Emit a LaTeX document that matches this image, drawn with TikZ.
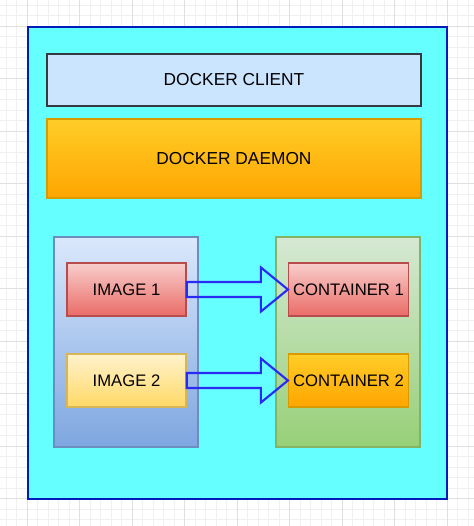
\documentclass[tikz,border=0pt]{standalone}
\usepackage{fontspec}
\setmainfont{Liberation Sans}
\usepackage{xcolor}
\usetikzlibrary{calc, positioning}

\definecolor{hostcyan}{HTML}{66FFFF}
\definecolor{hostblue}{HTML}{001DBC}
\definecolor{arrowblue}{HTML}{2A2AF5}

\tikzset{
  box/.style={rectangle, draw, line width=1.1pt, align=center, font=\fontsize{12.5}{15}\selectfont},
  redbox/.style={box, draw=red!60!black!70, top color={rgb,255:red,248;green,206;blue,204}, bottom color={rgb,255:red,234;green,107;blue,102}},
  yellowbox/.style={box, draw={rgb,255:red,214;green,182;blue,86}, top color={rgb,255:red,255;green,242;blue,204}, bottom color={rgb,255:red,255;green,217;blue,102}},
  orangebox/.style={box, draw={rgb,255:red,215;green,155;blue,0}, top color={rgb,255:red,255;green,205;blue,40}, bottom color={rgb,255:red,255;green,165;blue,0}},
  blockarrow/.style={draw=arrowblue, line width=1.6pt, line join=miter}
}

\begin{document}
\begin{tikzpicture}[x=0.75pt, y=-0.75pt]
\useasboundingbox (0,0) rectangle (474,526);
\fill[white] (0,0) rectangle (474,526);

% background grid
\foreach \i in {0,...,44} \draw[black!6, line width=0.5pt] ({6+10.5*\i},0) -- ({6+10.5*\i},526);
\foreach \i in {0,...,49} \draw[black!6, line width=0.5pt] (0,{5+10.5*\i}) -- (474,{5+10.5*\i});
\foreach \i in {0,...,8} \draw[black!12, line width=0.6pt] ({27+52.5*\i},0) -- ({27+52.5*\i},526);
\foreach \i in {0,...,9} \draw[black!12, line width=0.6pt] (0,{26+52.5*\i}) -- (474,{26+52.5*\i});

% docker host
\node[rectangle, draw=hostblue, fill=hostcyan, line width=1.6pt, minimum width=314.25pt, minimum height=354pt] (host) at (237.5,263) {};

% client and daemon
\node[box, draw={rgb,255:red,54;green,57;blue,61}, line width=1.5pt, fill={rgb,255:red,204;green,229;blue,255}, minimum width=280.5pt, minimum height=39pt, font=\fontsize{13}{15}\selectfont] (client) at (234,80) {DOCKER CLIENT};
\node[orangebox, minimum width=280.5pt, minimum height=59.25pt, font=\fontsize{13}{15}\selectfont] (daemon) at (234,158.5) {DOCKER DAEMON};

% images and containers
\node[box, draw={rgb,255:red,108;green,142;blue,191}, top color={rgb,255:red,218;green,232;blue,252}, bottom color={rgb,255:red,126;green,166;blue,224}, minimum width=108pt, minimum height=157.5pt] (images) at (126,342) {};
\node[box, draw={rgb,255:red,130;green,179;blue,102}, top color={rgb,255:red,213;green,232;blue,212}, bottom color={rgb,255:red,151;green,208;blue,119}, minimum width=108pt, minimum height=157.5pt] (containers) at (348,342) {};

\node[redbox, minimum width=89.25pt, minimum height=39.75pt] (img1) at (126.5,289.5) {IMAGE 1};
\node[redbox, minimum width=89.25pt, minimum height=39.75pt] (cont1) at (348.5,289.5) {CONTAINER 1};
\node[yellowbox, minimum width=89.25pt, minimum height=39.75pt] (img2) at (126.5,380.5) {IMAGE 2};
\node[orangebox, minimum width=89.25pt, minimum height=39.75pt] (cont2) at (348.5,380.5) {CONTAINER 2};

% run arrows
\foreach \a/\b in {img1/cont1, img2/cont2}
  \draw[blockarrow] ($(\a.east)+(0,-7.5)$) -- ($(\b.west)+(-27,-7.5)$) -- ($(\b.west)+(-27,-22)$)
    -- (\b.west) -- ($(\b.west)+(-27,22)$) -- ($(\b.west)+(-27,7.5)$) -- ($(\a.east)+(0,7.5)$) -- cycle;
\end{tikzpicture}
\end{document}
